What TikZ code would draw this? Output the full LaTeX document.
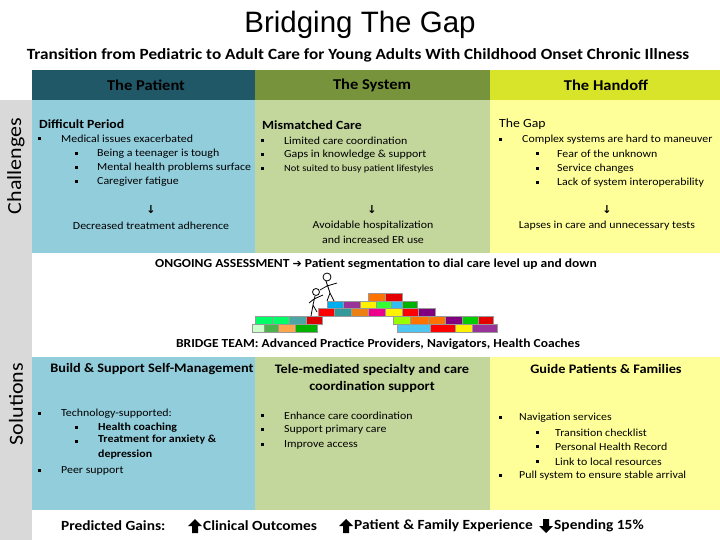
\documentclass[tikz,border=0pt]{standalone}
\usepackage{fontspec}
\setmainfont{Carlito}[FakeStretch=1.1]
\newfontfamily\arialf{Liberation Sans}
\newfontfamily\symf{DejaVu Sans}
\newcommand{\sqb}{\raisebox{1.5pt}{\rule{2.6pt}{2.6pt}}}
\begin{document}
\begin{tikzpicture}[x=1pt,y=-1pt,
  tx/.style={inner sep=0pt,anchor=west,font=\fontsize{10.8}{13}\selectfont},
  hd/.style={inner sep=0pt,font=\bfseries\fontsize{15}{17}\selectfont},
  bk/.style={draw=black!40,line width=0.3pt},
  fig/.style={line width=0.8pt},
  up/.style={fill=black}]
\definecolor{pdark}{HTML}{215868}\definecolor{plight}{HTML}{92CDDC}
\definecolor{sdark}{HTML}{77933C}\definecolor{slight}{HTML}{C3D69B}
\definecolor{hdark}{HTML}{D7E42A}\definecolor{hlight}{HTML}{FFFF99}
\definecolor{gband}{HTML}{D9D9D9}
\useasboundingbox (0,0) rectangle (720,540);
\fill[white] (0,0) rectangle (720,540);
\fill[gband] (0,100) rectangle (32,540);
\fill[pdark] (32,70) rectangle (255,100);
\fill[sdark] (255,70) rectangle (490,100);
\fill[hdark] (490,70) rectangle (720,100);
\fill[plight] (32,100) rectangle (255,253);
\fill[slight] (255,100) rectangle (490,253);
\fill[hlight] (490,100) rectangle (720,253);
\fill[plight] (32,357) rectangle (255,510);
\fill[slight] (255,357) rectangle (490,510);
\fill[hlight] (490,357) rectangle (720,510);
\node[font=\arialf\fontsize{29.5}{31}\selectfont] (title) at (360,25) {Bridging The Gap};
\node[font=\fontsize{15.6}{18}\selectfont] (sub) at (358,55) {\bfseries Transition from Pediatric to Adult Care for Young Adults With Childhood Onset Chronic Illness};
\node[hd] (h1) at (146,85) {The Patient};
\node[hd] (h2) at (372,85) {The System};
\node[hd] (h3) at (606,85) {The Handoff};
\node[rotate=90,font=\fontsize{20}{21}\selectfont] (ch) at (16,166) {Challenges};
\node[rotate=90,font=\fontsize{20}{21}\selectfont] (so) at (16,404) {Solutions};
% patient challenges
\node[tx,font=\bfseries\fontsize{12.5}{14}\selectfont] (p0) at (39,124) {Difficult Period};
\node[tx] (pb1) at (38,139) {\sqb};
\node[tx] (p1) at (61,139) {Medical issues exacerbated};
\foreach \y/\t in {154/Being a teenager is tough,168/Mental health problems surface,182/Caregiver fatigue}{
 \node[tx] at (75,\y) {\sqb}; \node[tx] at (97,\y) {\t};}
\node[font=\symf\bfseries\fontsize{11}{12}\selectfont] (pa) at (151,210) {↓};
\node[font=\fontsize{10.8}{13}\selectfont] (pr) at (151,226) {Decreased treatment adherence};
% system challenges
\node[tx,font=\bfseries\fontsize{12.5}{14}\selectfont] (s0) at (262,125) {Mismatched Care};
\foreach \y/\t in {141/Limited care coordination,155/Gaps in knowledge \& support}{
 \node[tx] at (261,\y) {\sqb}; \node[tx] at (284,\y) {\t};}
\node[tx] at (261,169) {\sqb}; \node[tx,font=\fontsize{9.5}{12}\selectfont] at (284,169) {Not suited to busy patient lifestyles};
\node[font=\symf\bfseries\fontsize{11}{12}\selectfont] (sa) at (372,210) {↓};
\node[align=center,font=\fontsize{10.8}{15}\selectfont] (sr) at (373,232) {Avoidable hospitalization\\and increased ER use};
% handoff challenges
\node[tx,font=\fontsize{12.5}{14}\selectfont] (g0) at (499,124) {The Gap};
\node[tx] at (499,140) {\sqb}; \node[tx] (g1) at (522,140) {Complex systems are hard to maneuver};
\foreach \y/\t in {154/Fear of the unknown,169/Service changes,183/Lack of system interoperability}{
 \node[tx] at (536,\y) {\sqb}; \node[tx] at (557,\y) {\t};}
\node[font=\symf\bfseries\fontsize{11}{12}\selectfont] (ha) at (607,210) {↓};
\node[font=\fontsize{10.8}{13}\selectfont] (hr) at (607,226) {Lapses in care and unnecessary tests};
% middle
\node[font=\bfseries\fontsize{12.3}{14}\selectfont] (oa) at (376,264) {ONGOING ASSESSMENT {\symf\fontsize{11}{12}\selectfont ➔} Patient segmentation to dial care level up and down};
\node[font=\bfseries\fontsize{12.3}{14}\selectfont] (bt) at (378,344) {BRIDGE TEAM: Advanced Practice Providers, Navigators, Health Coaches};
% bricks
\foreach \a/\b/\c in {252/264/green!20,264/278/gray!60!green,278/295/orange!70,295/317/green!70!black,
 397/430/cyan!70,430/455/red,455/472/yellow,472/497/violet!80}{\fill[\c,bk] (\a,324) rectangle (\b,332);}
\foreach \a/\b/\c in {255/272/green!60!cyan,272/289/green!60!cyan,289/306/teal!70,306/322/red!85!black,
 393/410/lime!80!green,410/428/orange!90!red,428/445/orange!90!red,445/462/violet,462/478/green!80!black,478/493/red!90!black}{\fill[\c,bk] (\a,316) rectangle (\b,324);}
\foreach \a/\b/\c in {318/334/red,334/351/teal!80,351/368/orange!70!brown,368/385/magenta,385/402/yellow,402/418/red,418/435/violet}{\fill[\c,bk] (\a,308) rectangle (\b,316);}
\foreach \a/\b/\c in {327/343/cyan,343/360/violet!80,360/376/yellow,376/391/green!80,391/402/cyan!80,402/417/green!70!black}{\fill[\c,bk] (\a,301) rectangle (\b,308);}
\foreach \a/\b/\c in {368/385/orange!90!red,385/402/red!90!black}{\fill[\c,bk] (\a,293) rectangle (\b,301);}
% stick figures
\draw[fig] (327,277) circle (4);
\draw[fig] (326,281) -- (330,293) (330,293) -- (327,301) (330,293) -- (334,301) (327,286) -- (337,283) (327,286) -- (320,290);
\draw[fig] (316,292) circle (3.5);
\draw[fig] (315,296) -- (313,305) (313,305) -- (311,316) (313,305) -- (317,312) (314,299) -- (323,295) (314,299) -- (309,303);
% solutions
\node[font=\bfseries\fontsize{13}{15}\selectfont] (b1) at (152,369) {Build \& Support Self-Management};
\node[tx] at (38,414) {\sqb}; \node[tx] at (61,414) {Technology-supported:};
\node[tx] at (75,428) {\sqb}; \node[tx,font=\bfseries\fontsize{10.8}{13}\selectfont] at (98,428) {Health coaching};
\node[tx] at (75,442) {\sqb}; \node[tx,anchor=north west,align=left,font=\bfseries\fontsize{10.8}{15}\selectfont] at (98,435) {Treatment for anxiety \&\\depression};
\node[tx] at (38,471) {\sqb}; \node[tx] at (61,471) {Peer support};
\node[align=center,font=\bfseries\fontsize{13}{17}\selectfont] (b2) at (372,378) {Tele-mediated specialty and care\\coordination support};
\foreach \y/\t in {416/Enhance care coordination,430/Support primary care,445/Improve access}{
 \node[tx] at (261,\y) {\sqb}; \node[tx] at (284,\y) {\t};}
\node[font=\bfseries\fontsize{13}{15}\selectfont] (b3) at (606,369) {Guide Patients \& Families};
\node[tx] at (499,418) {\sqb}; \node[tx] at (519,418) {Navigation services};
\foreach \y/\t in {433/Transition checklist,447/Personal Health Record,462/Link to local resources}{
 \node[tx] at (536,\y) {\sqb}; \node[tx] at (555,\y) {\t};}
\node[tx] at (499,476) {\sqb}; \node[tx] at (519,476) {Pull system to ensure stable arrival};
% predicted gains
\tikzset{gt/.style={inner sep=0pt,anchor=west,font=\bfseries\fontsize{14}{16}\selectfont}}
\node[gt] (pg) at (61,526) {Predicted Gains:};
\node[gt] (g1) at (203,526) {Clinical Outcomes};
\node[gt] (g2) at (354,526) {Patient \& Family Experience};
\node[gt] (g3) at (554,526) {Spending 15\%};
\fill[up] (195,519) -- (202,526) -- (198,526) -- (198,533) -- (192,533) -- (192,526) -- (188,526) -- cycle;
\fill[up] (346,519) -- (353,526) -- (349,526) -- (349,533) -- (343,533) -- (343,526) -- (339,526) -- cycle;
\fill[up] (546,533) -- (553,526) -- (549,526) -- (549,519) -- (543,519) -- (543,526) -- (539,526) -- cycle;
\end{tikzpicture}
\end{document}
